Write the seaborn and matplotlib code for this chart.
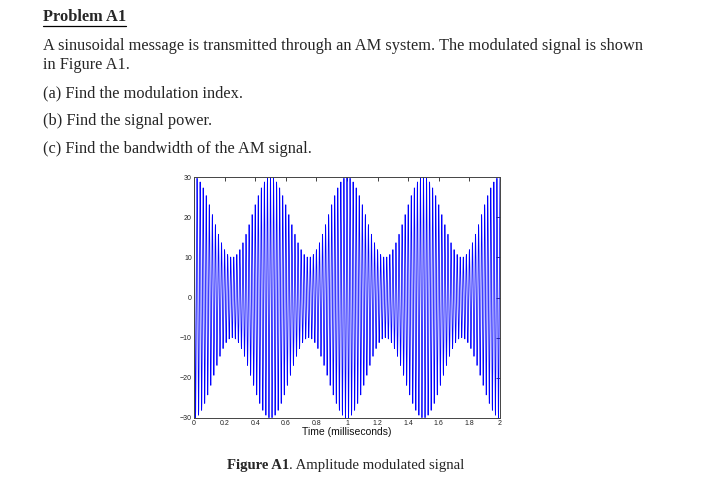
import numpy as np
import pandas as pd
import matplotlib
matplotlib.use("Agg")
import matplotlib.pyplot as plt
import seaborn as sns

# Parameters
carrier_amplitude = 20.0      # mid-level of the envelope
modulation_index = 0.5        # envelope swings between 10 and 30
message_freq_khz = 2.0        # envelope peaks every 0.5 ms
carrier_freq_khz = 50.0       # carrier cycles
time_span_ms = [0.0, 2.0]
sample_step_ms = 0.001

x_ticks = [0, 0.2, 0.4, 0.6, 0.8, 1, 1.2, 1.4, 1.6, 1.8, 2]
x_tick_labels = ["0", "0.2", "0.4", "0.6", "0.8", "1", "1.2", "1.4", "1.6", "1.8", "2"]
y_ticks = [-30, -20, -10, 0, 10, 20, 30]
y_tick_labels = ["\u221230", "\u221220", "\u221210", "0", "10", "20", "30"]

problem_title = "Problem A1"
problem_lines = [
    "A sinusoidal message is transmitted through an AM system. The modulated signal is shown",
    "in Figure A1.",
    "(a) Find the modulation index.",
    "(b) Find the signal power.",
    "(c) Find the bandwidth of the AM signal.",
]
x_label = "Time (milliseconds)"
caption_bold = "Figure A1"
caption_rest = ". Amplitude modulated signal"

t = np.arange(time_span_ms[0], time_span_ms[1] + sample_step_ms / 2, sample_step_ms)
signal = carrier_amplitude * (1 + modulation_index * np.cos(2 * np.pi * message_freq_khz * t)) \
    * np.cos(2 * np.pi * carrier_freq_khz * t)
df = pd.DataFrame({"t": t, "s": signal})

sns.set_theme(style="white")
plt.rcParams["font.family"] = ["Liberation Sans", "DejaVu Sans"]

W, H = 728, 484
fig = plt.figure(figsize=(W / 100, H / 100), dpi=100)
fig.patch.set_facecolor("white")

ax = fig.add_axes([194 / W, 1 - 418 / H, (500 - 194) / W, (418 - 177) / H])
sns.lineplot(data=df, x="t", y="s", ax=ax, color=(0, 0, 1), linewidth=0.55,
             estimator=None, sort=False)
ax.set_xlim(0, 2)
ax.set_ylim(-30, 30)
ax.set_xticks(x_ticks)
ax.set_xticklabels(x_tick_labels)
ax.set_yticks(y_ticks)
ax.set_yticklabels(y_tick_labels)
ax.tick_params(axis="both", direction="in", length=3, width=0.6, labelsize=5,
               top=True, right=True, pad=1.5, colors="#222222", labelcolor="#222222")
for sp in ax.spines.values():
    sp.set_visible(True)
    sp.set_color("#444444")
    sp.set_linewidth(0.7)
ax.set_xlabel(x_label, fontsize=7.5, labelpad=0, color="#111111")
ax.set_ylabel("")
ax.grid(False)

serif = ["Liberation Serif", "DejaVu Serif"]
body_size = 11.8
caption_size = 10.6
t0 = fig.text(43 / W, 1 - 17 / H, problem_title, fontsize=body_size, fontweight="bold",
              family=serif, va="center", ha="left")
fig.canvas.draw()
bb = t0.get_window_extent()
fig.add_artist(plt.Line2D([bb.x0 / W, bb.x1 / W], [(bb.y0 - 1) / H, (bb.y0 - 1) / H],
                          color="black", linewidth=0.9, transform=fig.transFigure))

line_y = [46, 65, 93, 121, 149]
for txt, yy in zip(problem_lines, line_y):
    fig.text(43 / W, 1 - yy / H, txt, fontsize=body_size, family=serif, va="center", ha="left")

# caption: bold part + normal part, centered together
renderer = fig.canvas.get_renderer()
cb = fig.text(0, 1 - 466 / H, caption_bold, fontsize=caption_size, fontweight="bold",
              family=serif, va="center", ha="left")
cr = fig.text(0, 1 - 466 / H, caption_rest, fontsize=caption_size,
              family=serif, va="center", ha="left")
fig.canvas.draw()
wb = cb.get_window_extent(renderer).width
wr = cr.get_window_extent(renderer).width
x_start = 346 - (wb + wr) / 2
cb.set_x(x_start / W)
cr.set_x((x_start + wb) / W)

fig.savefig("out.png", dpi=100, facecolor="white")
